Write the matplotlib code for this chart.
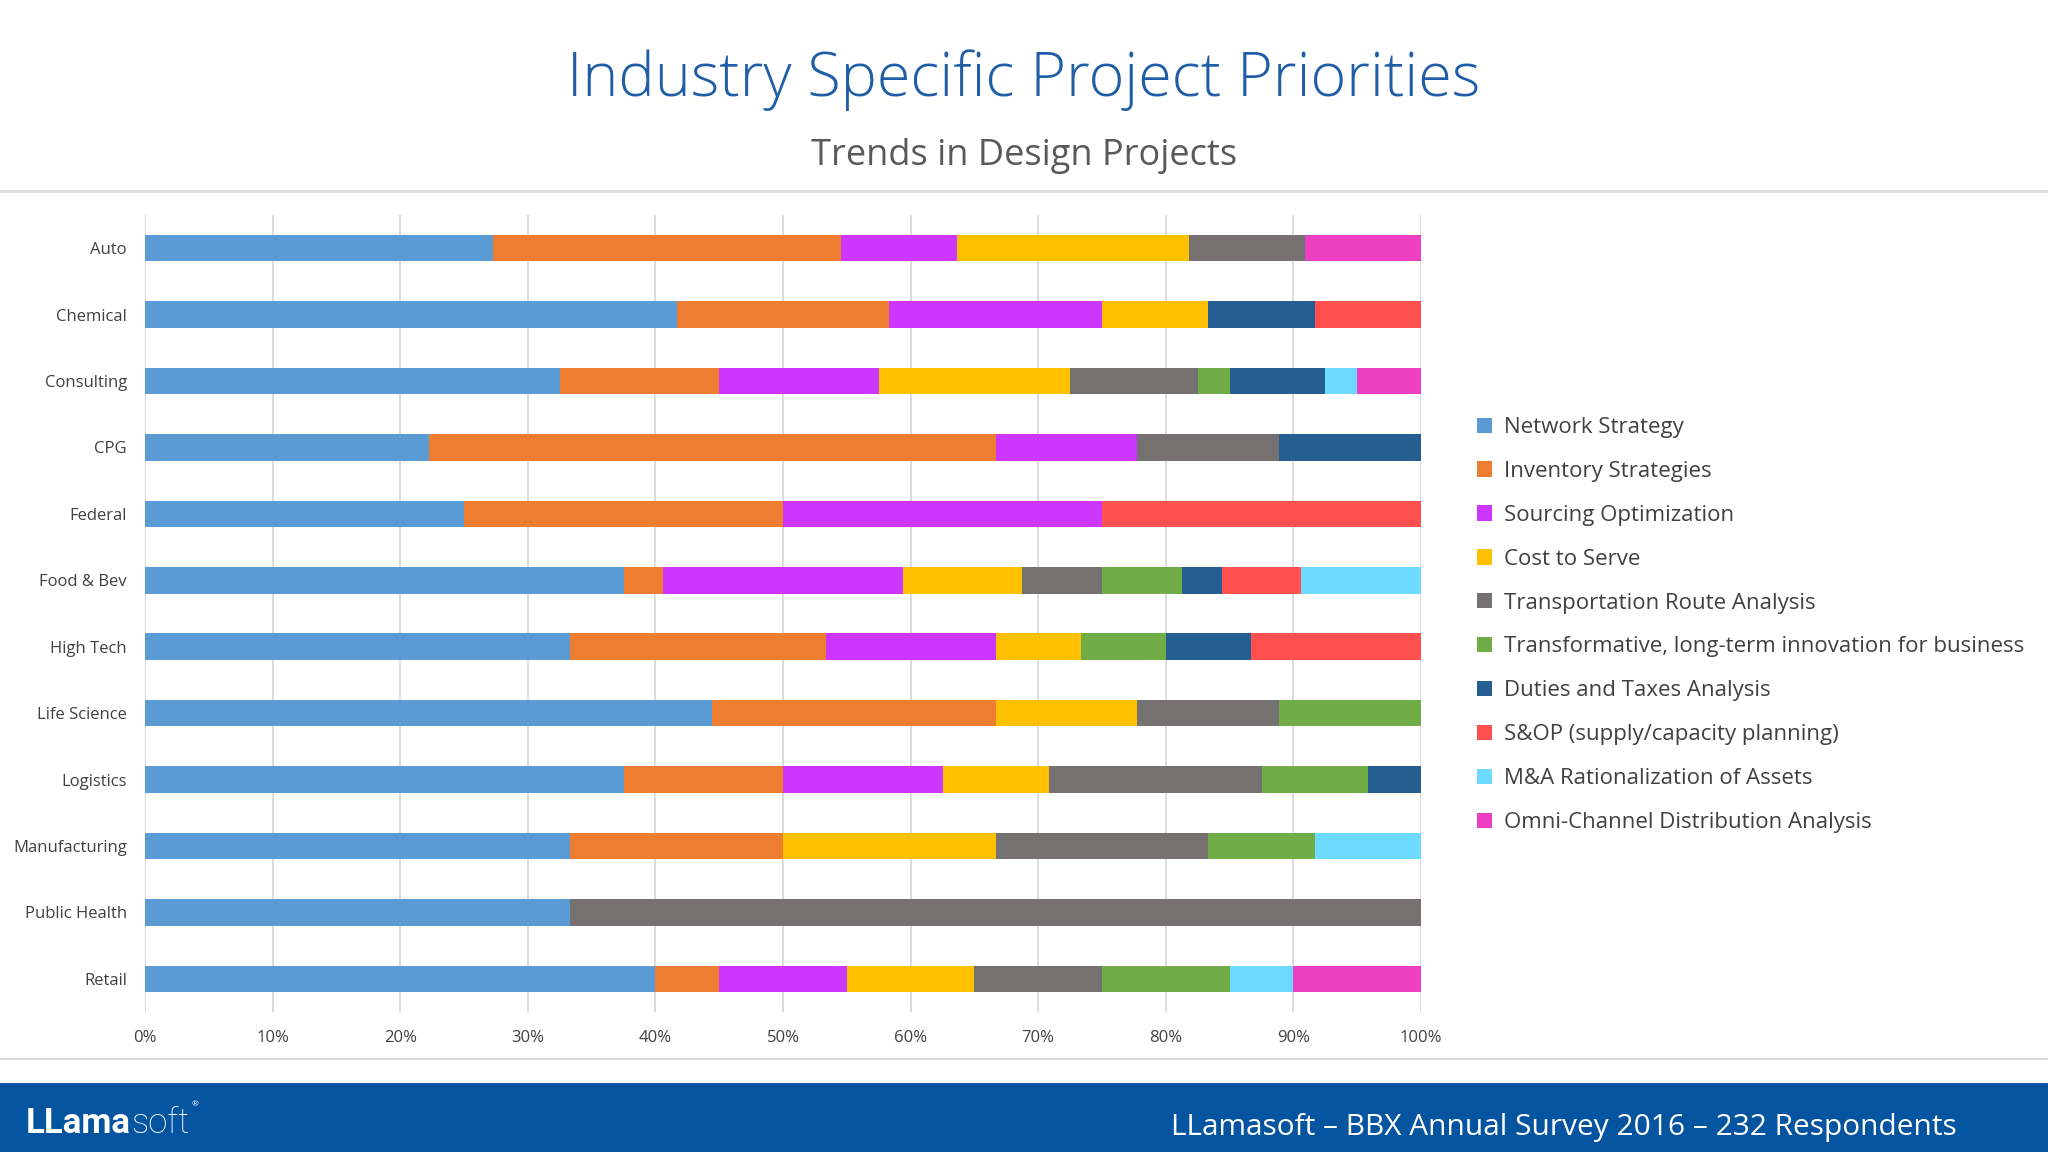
import matplotlib
matplotlib.use("Agg")
import matplotlib.pyplot as plt
from matplotlib.lines import Line2D
from matplotlib.patches import Rectangle
from matplotlib.ticker import PercentFormatter
import numpy as np

plt.rcParams['font.family'] = ['Open Sans', 'DejaVu Sans']

categories = ['Auto', 'Chemical', 'Consulting', 'CPG', 'Federal', 'Food & Bev',
              'High Tech', 'Life Science', 'Logistics', 'Manufacturing',
              'Public Health', 'Retail']

# respondent counts per industry
network =    [3, 5, 13, 2, 1, 12, 5, 4, 9, 4, 1, 8]
inventory =  [3, 2, 5, 4, 1, 1, 3, 2, 3, 2, 0, 1]
sourcing =   [1, 2, 5, 1, 1, 6, 2, 0, 3, 0, 0, 2]
cost_serve = [2, 1, 6, 0, 0, 3, 1, 1, 2, 2, 0, 2]
transport =  [1, 0, 4, 1, 0, 2, 0, 1, 4, 2, 2, 2]
transform =  [0, 0, 1, 0, 0, 2, 1, 1, 2, 1, 0, 2]
duties =     [0, 1, 3, 1, 0, 1, 1, 0, 1, 0, 0, 0]
sop =        [0, 1, 0, 0, 1, 2, 2, 0, 0, 0, 0, 0]
mna =        [0, 0, 1, 0, 0, 3, 0, 0, 0, 1, 0, 1]
omni =       [1, 0, 2, 0, 0, 0, 0, 0, 0, 0, 0, 2]

series_names = ['Network Strategy', 'Inventory Strategies', 'Sourcing Optimization',
                'Cost to Serve', 'Transportation Route Analysis',
                'Transformative, long-term innovation for business',
                'Duties and Taxes Analysis', 'S&OP (supply/capacity planning)',
                'M&A Rationalization of Assets', 'Omni-Channel Distribution Analysis']
colors = ['#5B9BD5', '#ED7D31', '#CC36FF', '#FFC000', '#767171',
          '#70AD47', '#255E91', '#FF5050', '#6DDBFF', '#EC3FC2']

counts = np.array([network, inventory, sourcing, cost_serve, transport,
                   transform, duties, sop, mna, omni], dtype=float)
shares = counts / counts.sum(axis=0)

W, H = 2048, 1152
fig = plt.figure(figsize=(W / 100, H / 100), dpi=100)
fig.patch.set_facecolor('white')

ax = fig.add_axes([145 / W, 1 - 1012 / H, (1421 - 145) / W, (1012 - 215) / H])
y = np.arange(len(categories))
left = np.zeros(len(categories))
handles = []
for name, col, vals in zip(series_names, colors, shares):
    b = ax.barh(y, vals, left=left, height=0.4, color=col, label=name, zorder=3)
    handles.append(b)
    left += vals

ax.set_xlim(0, 1)
ax.set_ylim(11.5, -0.5)
ax.set_xticks(np.arange(0, 1.01, 0.1))
ax.xaxis.set_major_formatter(PercentFormatter(1.0, decimals=0))
ax.set_yticks(y)
ax.set_yticklabels(categories)
ax.tick_params(length=0, labelsize=12, colors='#404040')
ax.tick_params(axis='x', pad=13)
ax.tick_params(axis='y', pad=13)
ax.grid(axis='x', color='#D9D9D9', linewidth=1.3, zorder=0)
for s in ax.spines.values():
    s.set_visible(False)

fig.legend(handles=handles, labels=series_names, loc='center left',
           bbox_to_anchor=(1477 / W, 1 - 625 / H), frameon=False,
           fontsize=16, labelcolor='#404040', handlelength=0.68, handleheight=0.68,
           handletextpad=0.55, labelspacing=1.03, borderpad=0, borderaxespad=0)

# title block
fig.text(0.5, 1 - 96 / H, 'Industry Specific Project Priorities', ha='center',
         va='baseline', fontsize=44, color='#1F5DA6', fontweight='light')
fig.text(0.5, 1 - 165 / H, 'Trends in Design Projects', ha='center',
         va='baseline', fontsize=26, color='#595959')

# separators and footer band
fig.add_artist(Line2D([0, 1], [1 - 191 / H] * 2, color='#DADADA', lw=2))
fig.add_artist(Line2D([0, 1], [1 - 1059 / H] * 2, color='#DADADA', lw=1.5))
fig.add_artist(Rectangle((0, 0), 1, 1 - 1083 / H, transform=fig.transFigure,
                         facecolor='#0454A0', edgecolor='none'))
fig.text(1957 / W, 1 - 1135 / H, 'LLamasoft \u2013 BBX Annual Survey 2016 \u2013 232 Respondents',
         ha='right', va='baseline', fontsize=21.5, color='white')

# logo
t = fig.text(26 / W, 1 - 1133 / H, 'LLama', ha='left', va='baseline',
             fontsize=25, color='white', fontweight='bold', family='Roboto')
fig.canvas.draw()
bb = t.get_window_extent()
t2 = fig.text(bb.x1 / W, 1 - 1133 / H, 'soft', ha='left', va='baseline',
              fontsize=25, color='white', fontweight='light', family='Roboto')
fig.canvas.draw()
bb2 = t2.get_window_extent()
fig.text(bb2.x1 / W + 0.001, 1 - 1106 / H, '\u00ae', ha='left', va='baseline',
         fontsize=6, color='white')

fig.savefig('out.png', dpi=100)
